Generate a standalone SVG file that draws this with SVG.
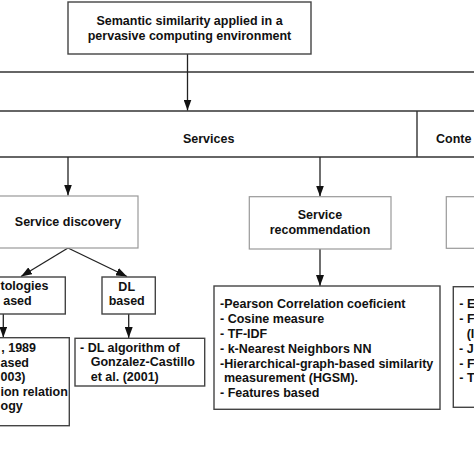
<svg xmlns="http://www.w3.org/2000/svg" width="474" height="474" viewBox="0 0 474 474">
<style>
text{font-family:"Liberation Sans",Arial,sans-serif;font-weight:bold;font-size:12.5px;fill:#111}
.c{text-anchor:middle}
.e{text-anchor:end}
.dark{fill:#fff;stroke:#444;stroke-width:1.4}
.light{fill:#fff;stroke:#999;stroke-width:1.2}
.ln{stroke:#333;stroke-width:1.4;fill:none}
.ar{stroke:#222;stroke-width:1.3;fill:none;marker-end:url(#ah)}
</style>
<defs>
<marker id="ah" markerUnits="userSpaceOnUse" markerWidth="11" markerHeight="8" refX="11" refY="4" orient="auto">
<path d="M0,0 L11,4 L0,8 z" fill="#111"/>
</marker>
</defs>
<rect width="474" height="474" fill="#fff"/>
<g id="frame">
<line class="ln" x1="0" y1="72" x2="474" y2="72"/>
<line class="ln" x1="0" y1="111" x2="474" y2="111"/>
<line class="ln" x1="0" y1="157" x2="474" y2="157"/>
<line class="ln" x1="417" y1="111" x2="417" y2="157"/>
</g>
<g id="connectors">
<line class="ar" x1="187.5" y1="54" x2="187.5" y2="110.5"/>
<line class="ar" x1="68" y1="157" x2="68" y2="195.5"/>
<line class="ar" x1="320" y1="157" x2="320" y2="196.5"/>
<line class="ar" x1="68" y1="248" x2="21" y2="276.5"/>
<line class="ar" x1="68" y1="248" x2="127" y2="276.5"/>
<line class="ar" x1="3.3" y1="314" x2="3.3" y2="337.5"/>
<line class="ar" x1="128.7" y1="314" x2="128.7" y2="338"/>
<line class="ar" x1="320" y1="249" x2="320" y2="286"/>
</g>
<g id="root">
<rect class="dark" x="68" y="2" width="243" height="52"/>
<text class="c" x="189.5" y="24.5">Semantic similarity applied in a</text>
<text class="c" x="189.5" y="39.5">pervasive computing environment</text>
</g>
<g id="services">
<text class="c" x="208.7" y="143">Services</text>
</g>
<g id="context">
<text x="436" y="143">Conte</text>
</g>
<g id="service-discovery">
<rect class="light" x="-10" y="196" width="148" height="52"/>
<text class="c" x="68" y="225.5">Service discovery</text>
</g>
<g id="service-recommendation">
<rect class="light" x="249.3" y="196.7" width="141.7" height="52.3"/>
<text class="c" x="320" y="219">Service</text>
<text class="c" x="320" y="233.5">recommendation</text>
</g>
<g id="right-box">
<rect class="light" x="446.3" y="196.7" width="40" height="51.6"/>
</g>
<g id="ontologies">
<rect class="dark" x="-10" y="277" width="75.3" height="37"/>
<text x="0.5" y="289.5">tologies</text>
<text class="e" x="31.7" y="305">ased</text>
</g>
<g id="dl">
<rect class="dark" x="102" y="277" width="53.3" height="37"/>
<text class="c" x="126.7" y="290.5">DL</text>
<text class="c" x="126.7" y="305">based</text>
</g>
<g id="ontologies-list">
<rect class="dark" x="-10" y="337.7" width="79.3" height="88"/>
<text class="e" x="36" y="352">, 1989</text>
<text x="0.5" y="366.5">ased</text>
<text x="0.5" y="381">003)</text>
<text x="0.5" y="395.5">ion relation</text>
<text x="0.5" y="410">ogy</text>
</g>
<g id="dl-list">
<rect class="dark" x="75" y="338.3" width="129.7" height="47.7"/>
<text x="80" y="351.5">- DL algorithm of</text>
<text x="90.7" y="366">Gonzalez-Castillo</text>
<text x="90.7" y="380.5">et al. (2001)</text>
</g>
<g id="recommendation-list">
<rect class="dark" x="214" y="286" width="226" height="123.3"/>
<text x="220" y="308.3">-Pearson Correlation coeficient</text>
<text x="220" y="323.1">- Cosine measure</text>
<text x="220" y="337.9">- TF-IDF</text>
<text x="220" y="352.7">- k-Nearest Neighbors NN</text>
<text x="220" y="367.5">-Hierarchical-graph-based similarity</text>
<text x="224" y="382.3"> measurement (HGSM).</text>
<text x="220" y="397.1">- Features based</text>
</g>
<g id="right-list">
<rect class="dark" x="453.3" y="286.7" width="40" height="120.6"/>
<text x="459.3" y="308.3">- E</text>
<text x="459.3" y="323.1">- F</text>
<text x="466.7" y="337.9">(I</text>
<text x="459" y="352.7">- J</text>
<text x="459.3" y="367.5">- F</text>
<text x="459.3" y="382.3">- T</text>
</g>
</svg>
